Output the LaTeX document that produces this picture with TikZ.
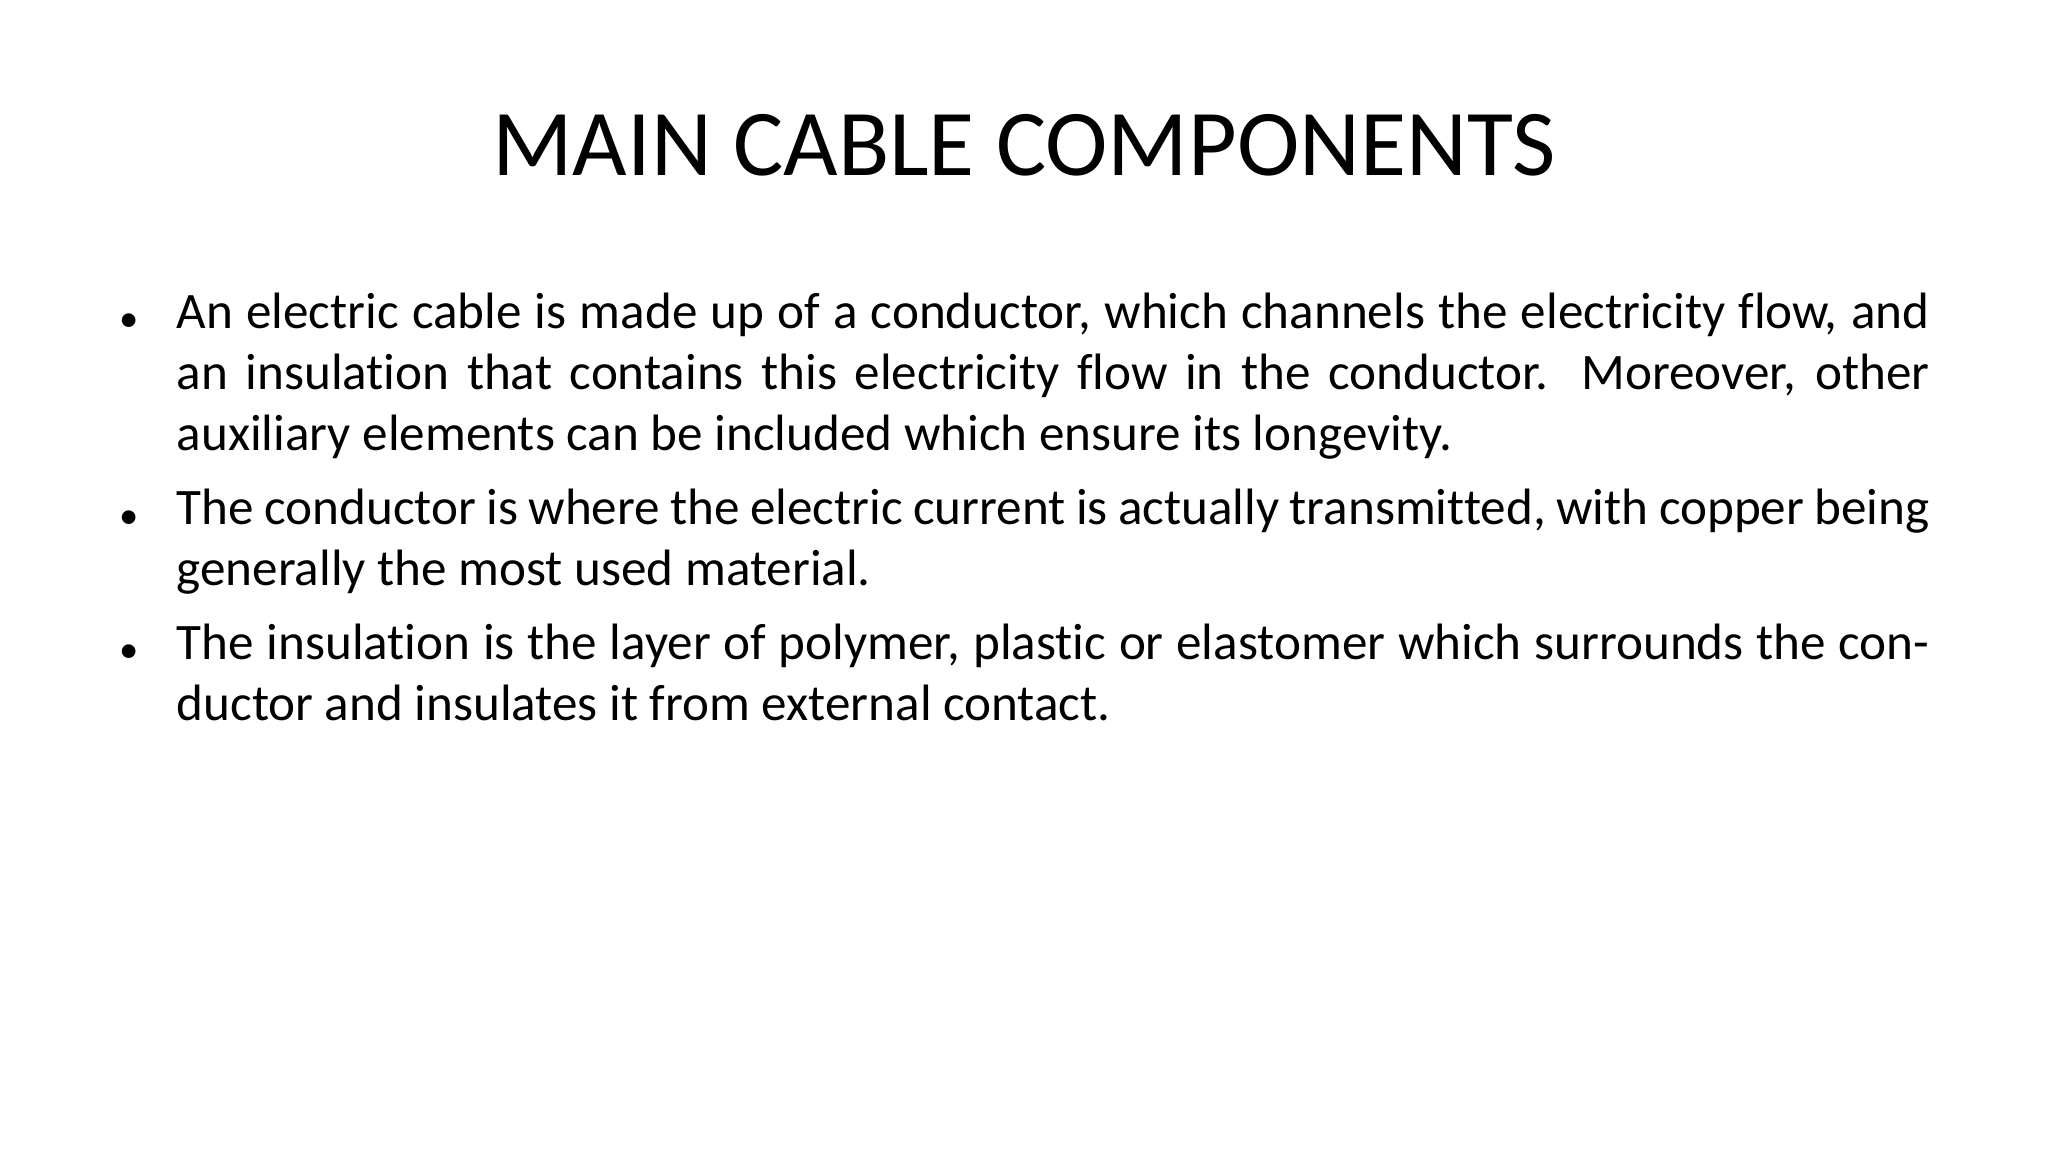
\documentclass[tikz,border=0pt]{standalone}
\usepackage{fontspec}
\setmainfont{Carlito}[RawFeature={-liga}]
\usetikzlibrary{positioning}

\begin{document}
\begin{tikzpicture}[
   bodytext/.style={anchor=north west, inner sep=0pt, text width=17.53cm, align=justify,
      font=\fontsize{14.55pt}{17.4pt}\selectfont},
   dot/.style={anchor=base west, inner sep=0pt, font=\fontsize{11pt}{13pt}\selectfont},
   node distance=0.28cm
   ]
   
   \useasboundingbox (0,0) rectangle (20.48,-11.52);
   
   \node[anchor=base, inner sep=0pt, font=\fontsize{26.8pt}{32pt}\selectfont] (title) at (10.24,-1.76) {MAIN CABLE COMPONENTS};
   
   \node[bodytext] (b1) at (1.76,-2.92) {An electric cable is made up of a conductor, which channels the electricity flow, and an insulation that contains this electricity flow in the conductor. Moreover, other auxiliary elements can be included which ensure its longevity.};
   \node[bodytext, below=of b1] (b2) {The conductor is where the electric current is actually transmitted, with copper being generally the most used material.};
   \node[bodytext, below=of b2] (b3) {The insulation is the layer of polymer, plastic or elastomer which surrounds the conductor and insulates it from external contact.};
   
   \node[dot] (d1) at ([xshift=-0.57cm, yshift=-0.40cm]b1.north west) {•};
   \node[dot] (d2) at ([xshift=-0.57cm, yshift=-0.40cm]b2.north west) {•};
   \node[dot] (d3) at ([xshift=-0.57cm, yshift=-0.40cm]b3.north west) {•};
   
\end{tikzpicture}
\end{document}
